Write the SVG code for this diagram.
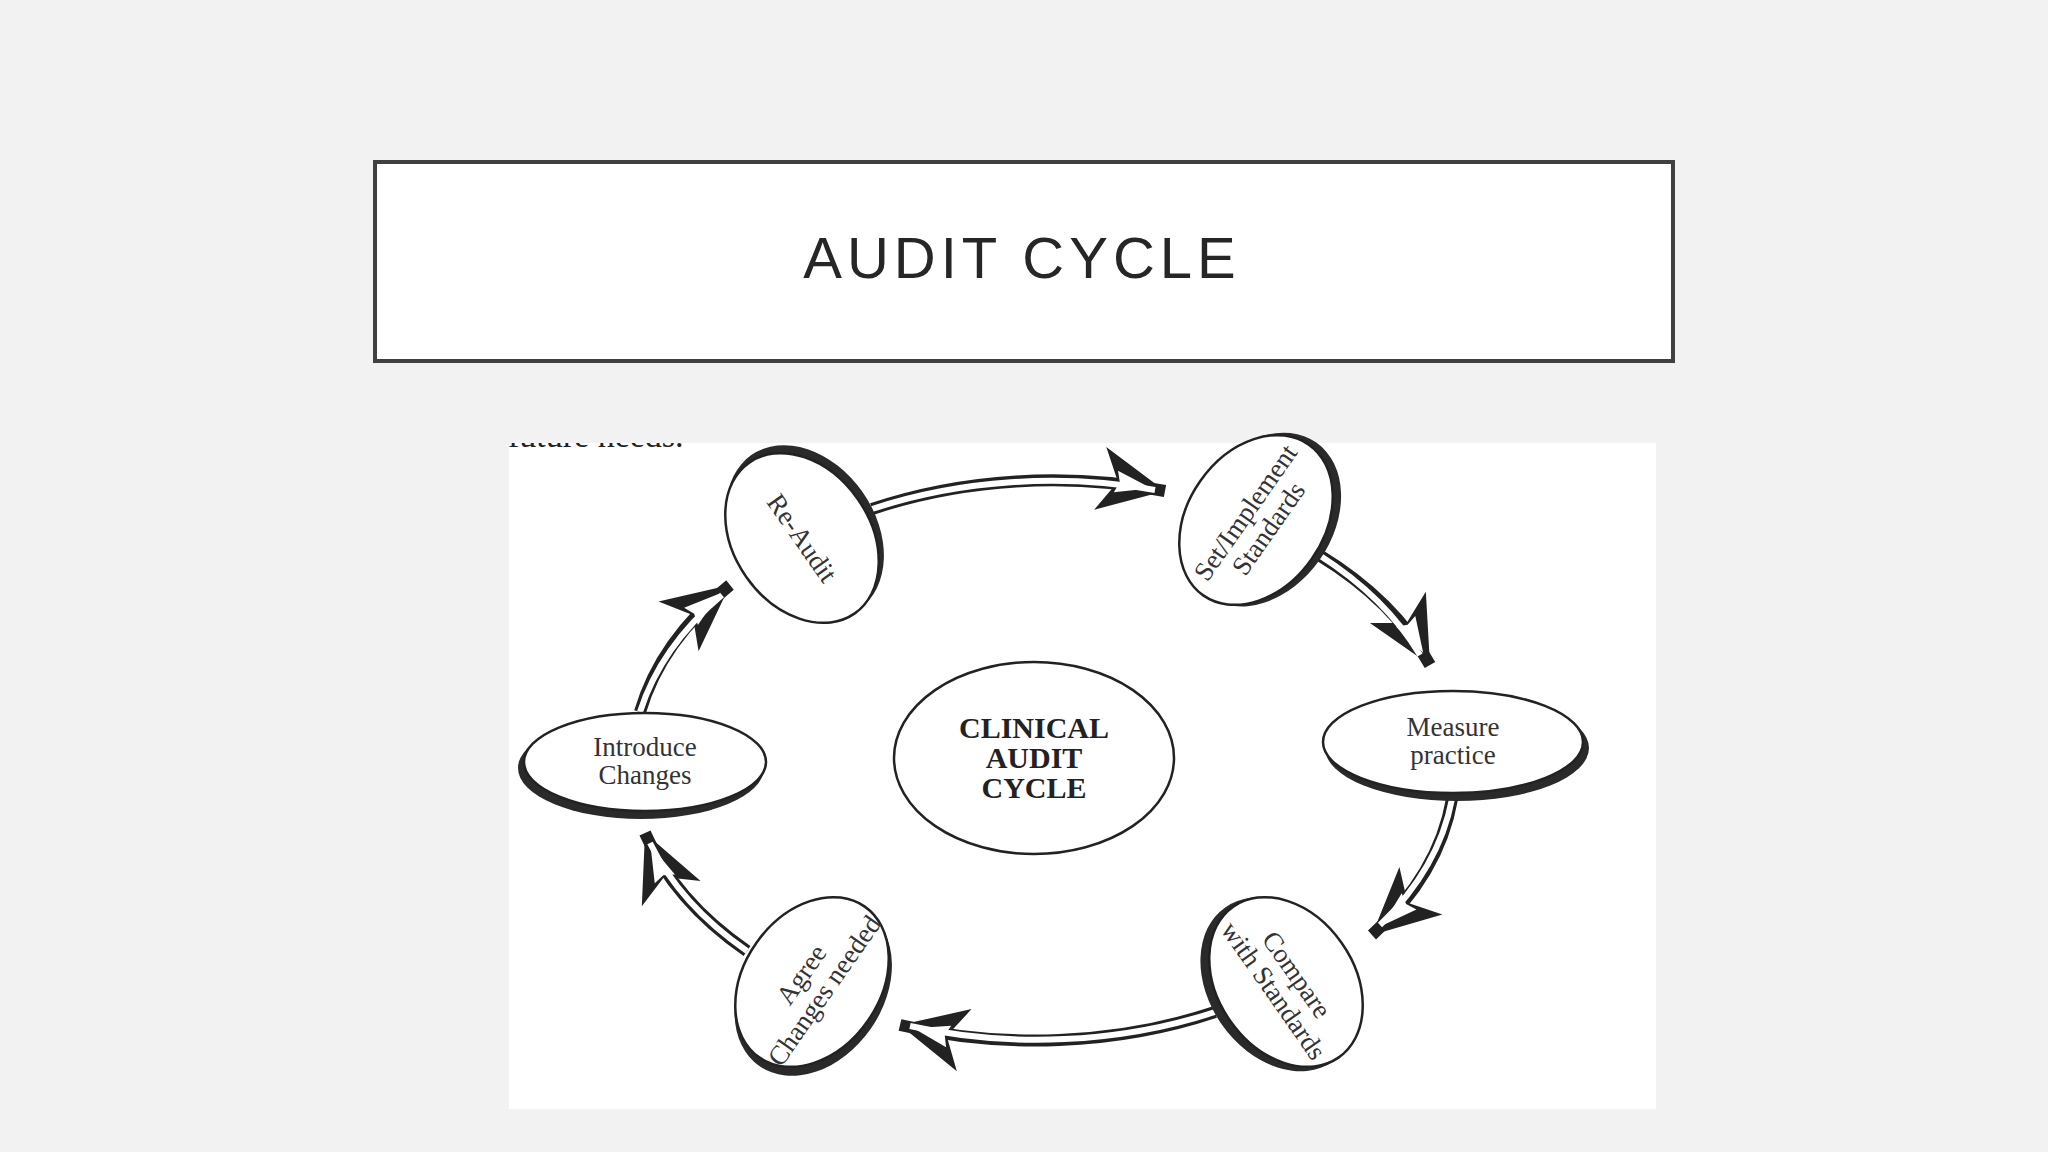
<svg xmlns="http://www.w3.org/2000/svg" width="2048" height="1152" viewBox="0 0 2048 1152">
<style>
.node{fill:#fff;stroke:#222;stroke-width:2.5}
.shadow{fill:#2a2a2a}
.t{font-family:"Liberation Serif",serif;font-size:27px;fill:#333;text-anchor:middle}
.c{font-family:"Liberation Serif",serif;font-size:30px;font-weight:bold;fill:#222;text-anchor:middle}
.outer{fill:none;stroke:#222;stroke-width:12}
.inner{fill:none;stroke:#fff;stroke-width:6}
</style>
<defs>
<marker id="ah" markerUnits="userSpaceOnUse" markerWidth="80" markerHeight="80" viewBox="-70 -40 80 80" refX="0" refY="0" orient="auto" overflow="visible">
<path d="M0,0 L-66,-32 L-48,0 L-66,32 Z" fill="#222"/>
<path d="M-14,0 L-50,-11 L-46,0 L-50,11 Z" fill="#fff"/>
</marker>
<clipPath id="imgclip"><rect x="509" y="443" width="1147" height="666"/></clipPath>
</defs>
<rect width="2048" height="1152" fill="#f2f2f2"/>
<rect x="375" y="162" width="1298" height="199" fill="#fff" stroke="#404040" stroke-width="4"/>
<text x="1022" y="278" font-family="Liberation Sans,Arial,sans-serif" font-size="58" letter-spacing="5" fill="#262626" text-anchor="middle">AUDIT CYCLE</text>
<rect x="509" y="443" width="1147" height="666" fill="#fff"/>
<text x="508" y="447" clip-path="url(#imgclip)" font-family="Liberation Serif,serif" font-size="34" fill="#222">future needs.</text>
<g id="connectors">
<path class="outer" d="M872,509 A411 281 0 0 1 1165,491" marker-end="url(#ah)"/>
<path class="inner" d="M872,509 A411 281 0 0 1 1155,490"/>
<path class="outer" d="M1319,555 A411 281 0 0 1 1430,665" marker-end="url(#ah)"/>
<path class="inner" d="M1319,555 A411 281 0 0 1 1420,655"/>
<path class="outer" d="M1452,799 A411 281 0 0 1 1372,935" marker-end="url(#ah)"/>
<path class="inner" d="M1452,799 A411 281 0 0 1 1380,925"/>
<path class="outer" d="M1215,1012 A411 281 0 0 1 900,1025" marker-end="url(#ah)"/>
<path class="inner" d="M1215,1012 A411 281 0 0 1 910,1026"/>
<path class="outer" d="M747,951 A411 281 0 0 1 645,833" marker-end="url(#ah)"/>
<path class="inner" d="M747,951 A411 281 0 0 1 650,843"/>
<path class="outer" d="M640,712 A411 281 0 0 1 730,585" marker-end="url(#ah)"/>
<path class="inner" d="M640,712 A411 281 0 0 1 722,595"/>
</g>
<g id="center">
<ellipse cx="1034" cy="758" rx="140" ry="96" class="node"/>
<text class="c" x="1034" y="738">CLINICAL</text>
<text class="c" x="1034" y="768">AUDIT</text>
<text class="c" x="1034" y="798">CYCLE</text>
</g>
<g id="reaudit" transform="translate(802,538) rotate(55)">
<ellipse rx="94" ry="70" class="shadow" transform="translate(-3,-6)"/>
<ellipse rx="92" ry="68" class="node"/>
<text class="t" x="0" y="9">Re-Audit</text>
</g>
<g id="set" transform="translate(1256,520) rotate(-55)">
<ellipse rx="94" ry="70" class="shadow" transform="translate(4,5)"/>
<ellipse rx="92" ry="68" class="node"/>
<text class="t" x="0" y="-4">Set/Implement</text>
<text class="t" x="0" y="24">Standards</text>
</g>
<g id="measure" transform="translate(1453,742)">
<ellipse rx="132" ry="53" class="shadow" transform="translate(4,6)"/>
<ellipse rx="130" ry="51" class="node"/>
<text class="t" x="0" y="-6">Measure</text>
<text class="t" x="0" y="22">practice</text>
</g>
<g id="compare" transform="translate(1286,982) rotate(55)">
<ellipse rx="94" ry="70" class="shadow" transform="translate(-2,7)"/>
<ellipse rx="92" ry="68" class="node"/>
<text class="t" x="0" y="-4">Compare</text>
<text class="t" x="0" y="24">with Standards</text>
</g>
<g id="agree" transform="translate(812,982) rotate(-55)">
<ellipse rx="94" ry="70" class="shadow" transform="translate(-5,5)"/>
<ellipse rx="92" ry="68" class="node"/>
<text class="t" x="0" y="-4">Agree</text>
<text class="t" x="0" y="24">Changes needed</text>
</g>
<g id="introduce" transform="translate(645,762)">
<ellipse rx="123" ry="51" class="shadow" transform="translate(-4,6)"/>
<ellipse rx="121" ry="49" class="node"/>
<text class="t" x="0" y="-6">Introduce</text>
<text class="t" x="0" y="22">Changes</text>
</g>
</svg>
